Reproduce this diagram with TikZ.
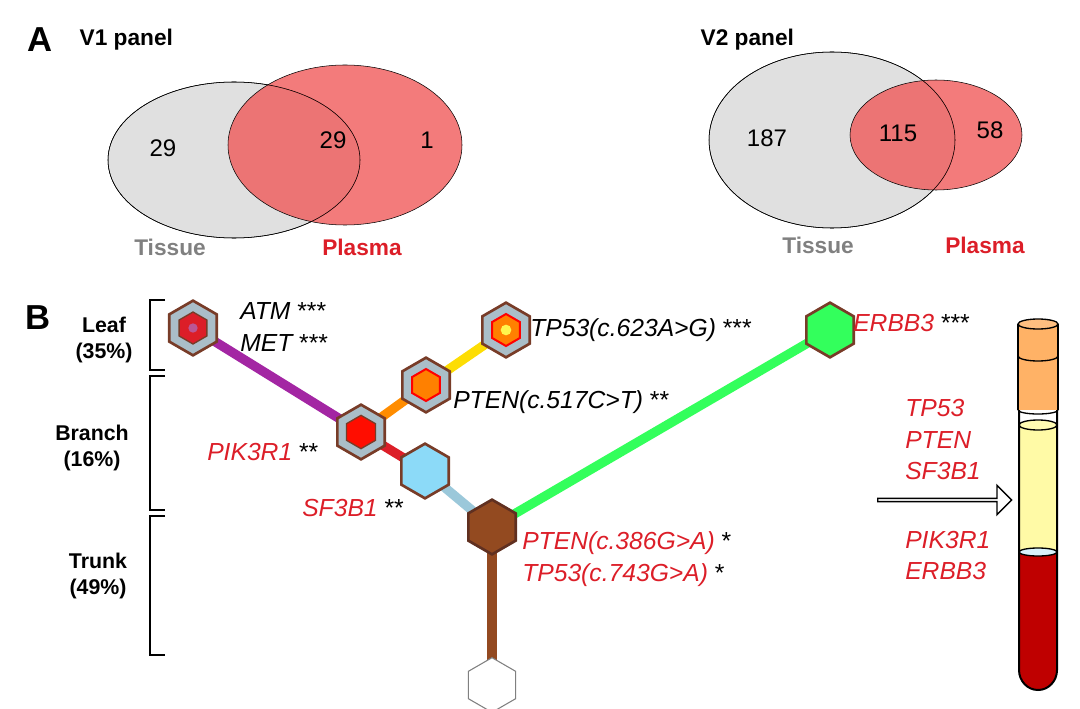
\documentclass[tikz,border=0pt]{standalone}
\usepackage{fontspec}
\setmainfont{Liberation Sans}
\usetikzlibrary{shapes.geometric,shapes.arrows}
\definecolor{tgray}{RGB}{224,224,224}
\definecolor{pred}{RGB}{240,90,90}
\definecolor{lred}{RGB}{220,30,40}
\definecolor{hbrown}{RGB}{120,60,40}
\definecolor{hgray}{RGB}{170,190,200}
\tikzset{
 px/.style={x=0.75pt,y=-0.75pt},
 num/.style={font=\fontsize{18}{20}\selectfont},
 lab/.style={font=\fontsize{18.5}{20}\selectfont\itshape,anchor=west,inner sep=0},
 rl/.style={lab,text=lred},
 hex/.style={regular polygon,regular polygon sides=6,shape border rotate=30,minimum size=#1,inner sep=0},
 hx/.style={hex=41,draw=hbrown,line width=2pt},
 edge/.style={line width=7pt},
 side/.style={font=\bfseries\fontsize{16}{19}\selectfont,align=center},
 brk/.style={line width=2pt}
}
\begin{document}
\begin{tikzpicture}[px]
\useasboundingbox (0,0) rectangle (1080,709);
% Panel A
\node[font=\fontsize{26}{28}\selectfont\bfseries] (A) at (40,40) {A};
\node[font=\fontsize{17}{20}\selectfont\bfseries,anchor=west] (v1) at (75,40) {V1 panel};
\node[font=\fontsize{17}{20}\selectfont\bfseries,anchor=west] (v2) at (696,40) {V2 panel};
\draw[fill=tgray] (234,160) ellipse [x radius=126,y radius=78];
\draw[fill=pred,fill opacity=0.8] (345,145) ellipse [x radius=117,y radius=80];
\draw (234,160) ellipse [x radius=126,y radius=78];
\node[num] (n1) at (163,148) {29};
\node[num] (n2) at (333,140) {29};
\node[num] (n3) at (427,140) {1};
\node[font=\bfseries\fontsize{17}{20}\selectfont,text=gray] (t1) at (170,247) {Tissue};
\node[font=\bfseries\fontsize{17}{20}\selectfont,text=lred] (p1) at (362,247) {Plasma};
\draw[fill=tgray] (832,140) ellipse [x radius=123,y radius=88];
\draw[fill=pred,fill opacity=0.8] (936,135) ellipse [x radius=86,y radius=55];
\draw (832,140) ellipse [x radius=123,y radius=88];
\node[num] (m1) at (767,138) {187};
\node[num] (m2) at (898,133) {115};
\node[num] (m3) at (990,130) {58};
\node[font=\bfseries\fontsize{17}{20}\selectfont,text=gray] (t2) at (818,245) {Tissue};
\node[font=\bfseries\fontsize{17}{20}\selectfont,text=lred] (p2) at (985,245) {Plasma};
% Panel B
\node[font=\fontsize{26}{28}\selectfont\bfseries] (B) at (38,318) {B};
\draw[brk] (165,300) -- (150,300) -- (150,370) -- (165,370);
\draw[brk] (165,376) -- (150,376) -- (150,510) -- (165,510);
\draw[brk] (165,516) -- (150,516) -- (150,655) -- (165,655);
\node[side] (leaf) at (104,340) {Leaf\\(35\%)};
\node[side] (branch) at (92,448) {Branch\\(16\%)};
\node[side] (trunk) at (98,576) {Trunk\\(49\%)};
% node positions
\coordinate (pa) at (193,328);
\coordinate (pp) at (361,432);
\coordinate (pt) at (426,385);
\coordinate (pq) at (506,330);
\coordinate (ps) at (425,471);
\coordinate (pk) at (492,527);
\coordinate (pe) at (830,330);
\coordinate (pr) at (492,685);
% edges
\draw[edge,hbrown!80!orange] (pr) -- (pk);
\draw[edge,cyan!50!gray!60!white] (pk) -- (ps);
\draw[edge,lred] (ps) -- (pp);
\draw[edge,violet!60!magenta!70!gray] (pp) -- (pa);
\draw[edge,orange!90!yellow] (pp) -- (pt);
\draw[edge,yellow!80!orange] (pt) -- (pq);
\draw[edge,green!80!cyan!80!white] (pk) -- (pe);
% hexagons
\node[hx,fill=hgray] (atm) at (pa) {};
\node[hex=24,fill=lred,draw=hbrown,line width=1pt] at (pa) {};
\node[circle,fill=violet!60,minimum size=7pt,inner sep=0,opacity=0.8] at (pa) {};
\node[hx,fill=hgray] (pik) at (pp) {};
\node[hex=25,fill=red!90!orange,draw=hbrown,line width=1pt] at (pp) {};
\node[hx,fill=hgray] (pten) at (pt) {};
\node[hex=24,fill=orange,draw=red,line width=1.5pt] at (pt) {};
\node[hx,fill=hgray] (tp) at (pq) {};
\node[hex=24,fill=orange,draw=red,line width=1.5pt] at (pq) {};
\node[circle,fill=yellow!70,minimum size=8pt,inner sep=0] at (pq) {};
\node[hx,fill=cyan!45!white] (sf) at (ps) {};
\node[hx,fill=hbrown!80!orange,draw=hbrown!80!black] (trk) at (pk) {};
\node[hx,fill=green!80!cyan!80!white] (er) at (pe) {};
\node[hex=41,draw=gray,line width=0.8pt,fill=white] (root) at (pr) {};
% labels
\node[lab] (l1) at (240,311) {ATM \upshape***};
\node[lab] (l2) at (240,343) {MET \upshape***};
\node[lab] (l3) at (530,330) {TP53(c.623A>G) \upshape***};
\node[lab] (l4) at (453,402) {PTEN(c.517C>T) \upshape**};
\node[rl] (l5) at (207,452) {PIK3R1 \textcolor{black}{\upshape**}};
\node[rl] (l6) at (302,508) {SF3B1 \textcolor{black}{\upshape**}};
\node[rl] (l7) at (522,543) {PTEN(c.386G>A) \textcolor{black}{\upshape*}};
\node[rl] (l8) at (522,575) {TP53(c.743G>A) \textcolor{black}{\upshape*}};
\node[rl] (l9) at (853,323) {ERBB3 \textcolor{black}{\upshape***}};
% tube texts
\node[rl] (g1) at (905,408) {TP53};
\node[rl] (g2) at (905,440) {PTEN};
\node[rl] (g3) at (905,471) {SF3B1};
\node[rl] (g4) at (905,540) {PIK3R1};
\node[rl] (g5) at (905,571) {ERBB3};
% arrow
\coordinate (as) at (877,500);
\node[single arrow,draw,line width=1pt,fill=white,minimum width=22pt,single arrow head extend=4pt,inner sep=0,minimum height=134*0.75pt,anchor=tail] (arr) at (as) {};
% tube
\fill[red!75!black] (1019,552) -- (1019,670) arc[start angle=180,end angle=0,x radius=19,y radius=20] -- (1057,552) -- cycle;
\fill[yellow!35!white] (1019,425) rectangle (1057,552);
\draw[fill=cyan!15!white,line width=1pt] (1038,552) ellipse [x radius=19,y radius=4];
\draw[fill=yellow!30!white,line width=1pt] (1038,425) ellipse [x radius=19,y radius=5];
\fill[orange!60!white] (1018,324) rectangle (1058,410);
\draw[line width=1pt] (1018,410) arc[start angle=180,end angle=0,x radius=20,y radius=4];
\draw[line width=1pt] (1018,356) arc[start angle=180,end angle=0,x radius=20,y radius=5];
\draw[line width=1pt,fill=orange!50!white] (1038,324) ellipse [x radius=20,y radius=5];
\draw[line width=1.5pt] (1018,324) -- (1018,410) (1058,324) -- (1058,410);
\draw[line width=1.5pt] (1019,410) -- (1019,670) arc[start angle=180,end angle=0,x radius=19,y radius=20] -- (1057,410);
\end{tikzpicture}
\end{document}
